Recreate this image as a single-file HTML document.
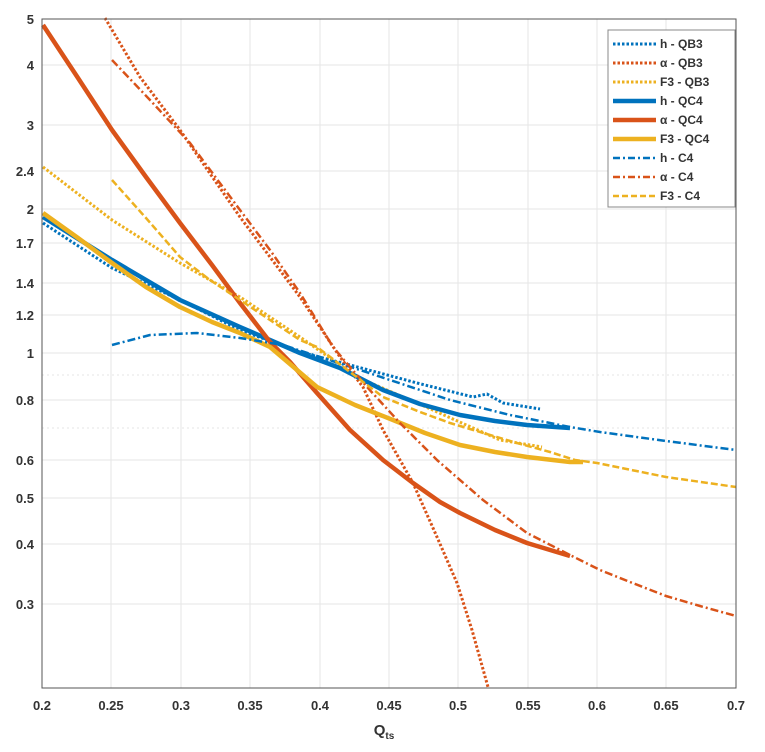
<!DOCTYPE html><html><head><style>body{margin:0;background:#fff}svg{display:block}text{font-family:"Liberation Sans",sans-serif;font-weight:bold;fill:#333}</style></head><body>
<svg id="s" width="765" height="752" viewBox="0 0 765 752">
<g stroke="#e6e6e6" stroke-width="1">
<line x1="111" y1="19" x2="111" y2="688"/><line x1="181" y1="19" x2="181" y2="688"/><line x1="250" y1="19" x2="250" y2="688"/><line x1="320" y1="19" x2="320" y2="688"/><line x1="389" y1="19" x2="389" y2="688"/><line x1="458" y1="19" x2="458" y2="688"/><line x1="528" y1="19" x2="528" y2="688"/><line x1="597" y1="19" x2="597" y2="688"/><line x1="666" y1="19" x2="666" y2="688"/>
<line x1="42" y1="65" x2="736" y2="65"/><line x1="42" y1="125" x2="736" y2="125"/><line x1="42" y1="171" x2="736" y2="171"/><line x1="42" y1="209" x2="736" y2="209"/><line x1="42" y1="243" x2="736" y2="243"/><line x1="42" y1="283" x2="736" y2="283"/><line x1="42" y1="315" x2="736" y2="315"/><line x1="42" y1="353" x2="736" y2="353"/><line x1="42" y1="400" x2="736" y2="400"/><line x1="42" y1="460" x2="736" y2="460"/><line x1="42" y1="498" x2="736" y2="498"/><line x1="42" y1="544" x2="736" y2="544"/><line x1="42" y1="604" x2="736" y2="604"/>
<line x1="42" y1="375" x2="736" y2="375" stroke-dasharray="2 3"/><line x1="42" y1="428" x2="736" y2="428" stroke-dasharray="2 3"/>
</g>
<g fill="none" stroke-linejoin="round" id="curves">
<path stroke="#0072BD" stroke-width="3" stroke-dasharray="2.5 2" d="M43,223 L112,268 L180,300 L240,330 L300,352 L350,365 L417,383 L473,397 L487,394 L503,403 L540,409"/>
<path stroke="#D95319" stroke-width="3" stroke-dasharray="2.5 2" d="M105,18 L140,77 L180,130 L240,217 L300,297 L340,357 L363,387 L383,430 L413,483 L437,537 L457,583 L472,630 L488,687"/>
<path stroke="#EDB120" stroke-width="3" stroke-dasharray="2.5 2" d="M43,167 L112,220 L180,263 L240,297 L300,337 L357,377 L417,403 L500,440 L542,447"/>
<path stroke="#0072BD" stroke-width="4.5" d="M43,217 L112,260 L180,300 L240,327 L300,353 L340,368 L383,390 L420,404 L460,415 L495,421 L527,425 L570,428"/>
<path stroke="#D95319" stroke-width="4.5" d="M43,25 L78,78 L112,130 L146,177 L180,223 L212,265 L240,303 L270,342 L290,362 L317,393 L350,430 L383,460 L413,483 L440,502 L460,513 L495,530 L527,543 L570,556"/>
<path stroke="#EDB120" stroke-width="4.5" d="M43,213 L78,238 L112,263 L146,287 L180,307 L212,322 L240,333 L270,347 L317,387 L355,405 L393,420 L425,433 L460,445 L495,452 L527,457 L570,462 L583,462"/>
<path stroke="#0072BD" stroke-width="2.5" stroke-dasharray="8 3 2 3" d="M112,345 L150,335 L197,333 L240,338 L283,345 L320,357 L360,370 L405,385 L450,400 L510,415 L570,427 L600,432 L666,441 L736,450"/>
<path stroke="#D95319" stroke-width="2.5" stroke-dasharray="8 3 2 3" d="M112,60 L150,100 L190,143 L240,210 L270,250 L300,293 L333,347 L367,387 L400,423 L437,460 L483,500 L527,533 L570,555 L600,570 L630,582 L666,596 L700,606 L736,616"/>
<path stroke="#EDB120" stroke-width="2.5" stroke-dasharray="7 3" d="M112,180 L146,218 L180,257 L210,280 L240,300 L270,320 L300,340 L317,347 L350,372 L383,397 L420,412 L450,423 L490,435 L517,443 L550,452 L575,460 L597,463 L666,477 L736,487"/>
</g>
<rect x="42" y="19" width="694" height="669" fill="none" stroke="#555" stroke-width="1"/>
<g font-size="13" text-anchor="end">
<text x="34" y="24">5</text><text x="34" y="70">4</text><text x="34" y="130">3</text><text x="34" y="176">2.4</text><text x="34" y="214">2</text><text x="34" y="248">1.7</text><text x="34" y="288">1.4</text><text x="34" y="320">1.2</text><text x="34" y="358">1</text><text x="34" y="405">0.8</text><text x="34" y="465">0.6</text><text x="34" y="503">0.5</text><text x="34" y="549">0.4</text><text x="34" y="609">0.3</text>
</g>
<g font-size="13" text-anchor="middle">
<text x="42" y="710">0.2</text><text x="111" y="710">0.25</text><text x="181" y="710">0.3</text><text x="250" y="710">0.35</text><text x="320" y="710">0.4</text><text x="389" y="710">0.45</text><text x="458" y="710">0.5</text><text x="528" y="710">0.55</text><text x="597" y="710">0.6</text><text x="666" y="710">0.65</text><text x="736" y="710">0.7</text>
</g>
<text x="384" y="735" font-size="15" text-anchor="middle">Q<tspan font-size="10" dy="4">ts</tspan></text>
<rect x="608" y="30" width="127" height="177" fill="#fff" stroke="#888"/>
<g stroke-width="3">
<line x1="613" y1="44" x2="656" y2="44" stroke="#0072BD" stroke-dasharray="2.5 2"/>
<line x1="613" y1="63" x2="656" y2="63" stroke="#D95319" stroke-dasharray="2.5 2"/>
<line x1="613" y1="82" x2="656" y2="82" stroke="#EDB120" stroke-dasharray="2.5 2"/>
<line x1="613" y1="101" x2="656" y2="101" stroke="#0072BD" stroke-width="4.5"/>
<line x1="613" y1="120" x2="656" y2="120" stroke="#D95319" stroke-width="4.5"/>
<line x1="613" y1="139" x2="656" y2="139" stroke="#EDB120" stroke-width="4.5"/>
<line x1="613" y1="158" x2="656" y2="158" stroke="#0072BD" stroke-width="2.5" stroke-dasharray="7 3 2 3"/>
<line x1="613" y1="177" x2="656" y2="177" stroke="#D95319" stroke-width="2.5" stroke-dasharray="7 3 2 3"/>
<line x1="613" y1="196" x2="656" y2="196" stroke="#EDB120" stroke-width="2.5" stroke-dasharray="6 3"/>
</g>
<g font-size="12" fill="#222">
<text x="660" y="48">h - QB3</text><text x="660" y="67">α - QB3</text><text x="660" y="86">F3 - QB3</text><text x="660" y="105">h - QC4</text><text x="660" y="124">α - QC4</text><text x="660" y="143">F3 - QC4</text><text x="660" y="162">h - C4</text><text x="660" y="181">α - C4</text><text x="660" y="200">F3 - C4</text>
</g>
</svg></body></html>
